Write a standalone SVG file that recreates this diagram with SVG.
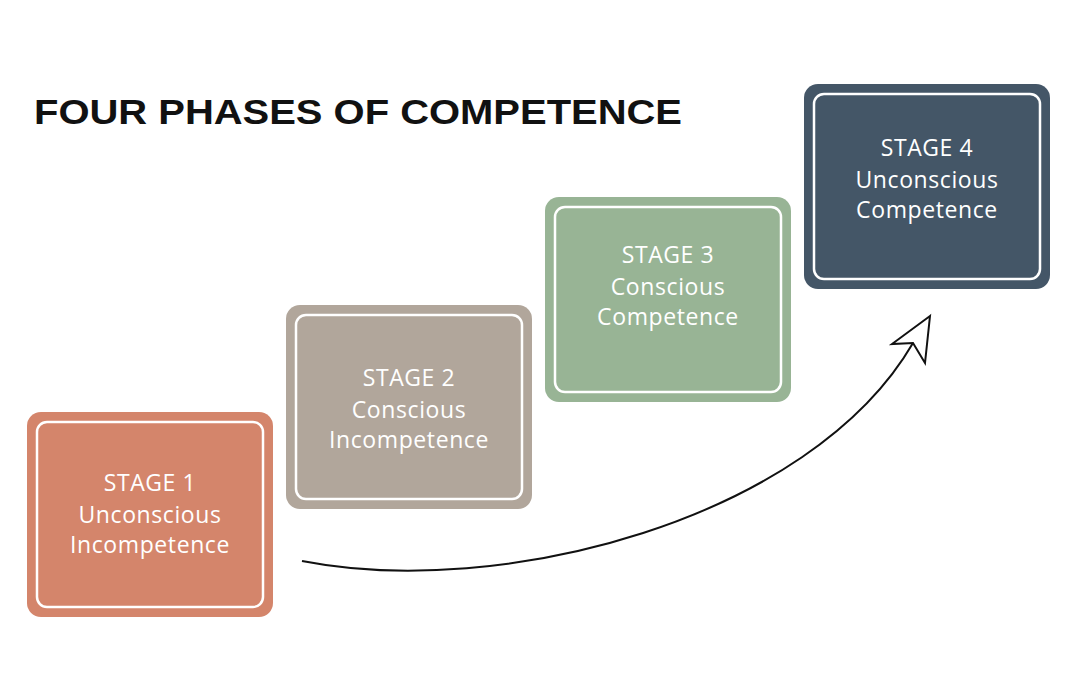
<svg xmlns="http://www.w3.org/2000/svg" width="1075" height="697" viewBox="0 0 1075 697">
<style>
.o{stroke:none}
.i{fill:none;stroke:#fff;stroke-width:2.5}
.t{font-family:"Open Sans","Liberation Sans",sans-serif;font-size:23px;letter-spacing:0.6px;fill:#fff;text-anchor:middle}
</style>
<rect width="1075" height="697" fill="#fff"/>
<text x="34" y="124" font-family="'Liberation Sans',sans-serif" font-weight="bold" font-size="35" textLength="648" lengthAdjust="spacingAndGlyphs" fill="#111">FOUR PHASES OF COMPETENCE</text>
<g id="stage1"><rect class="o" x="27" y="412" width="246" height="205" rx="14" fill="#d4856b"/><rect class="i" x="37" y="422" width="226" height="185" rx="10"/>
<text class="t" x="150" y="491">STAGE 1</text><text class="t" x="150" y="523">Unconscious</text><text class="t" x="150" y="553">Incompetence</text></g>
<g id="stage2"><rect class="o" x="286" y="305" width="246" height="204" rx="14" fill="#b1a69b"/><rect class="i" x="296" y="315" width="226" height="184" rx="10"/>
<text class="t" x="409" y="386">STAGE 2</text><text class="t" x="409" y="418">Conscious</text><text class="t" x="409" y="448">Incompetence</text></g>
<g id="stage3"><rect class="o" x="545" y="197" width="246" height="205" rx="14" fill="#98b495"/><rect class="i" x="555" y="207" width="226" height="185" rx="10"/>
<text class="t" x="668" y="263">STAGE 3</text><text class="t" x="668" y="295">Conscious</text><text class="t" x="668" y="325">Competence</text></g>
<g id="stage4"><rect class="o" x="804" y="84" width="246" height="205" rx="14" fill="#445667"/><rect class="i" x="814" y="94" width="226" height="185" rx="10"/>
<text class="t" x="927" y="156">STAGE 4</text><text class="t" x="927" y="188">Unconscious</text><text class="t" x="927" y="218">Competence</text></g>
<g id="connectors" fill="none" stroke="#111" stroke-width="2" stroke-linejoin="miter">
<path d="M302 561 C500 600 810 520 913 343"/>
<path d="M930 316 L892 344 L913 343 L925 363 Z"/>
</g>
</svg>
